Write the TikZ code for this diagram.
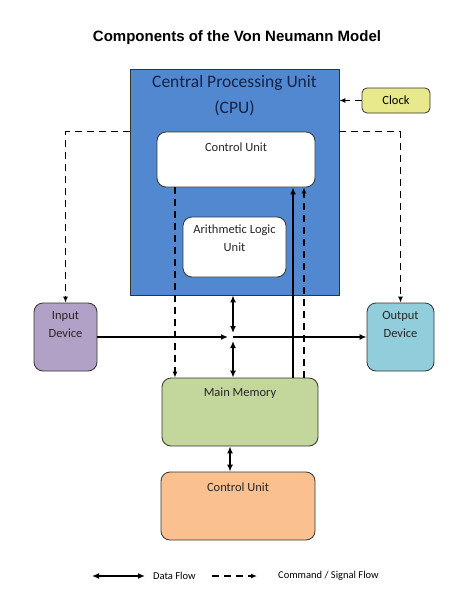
\documentclass[tikz,border=0pt]{standalone}
\usepackage{fontspec}
\setmainfont{Carlito}
\newfontfamily\headfont{Liberation Sans}
\usetikzlibrary{arrows.meta}
\usetikzlibrary{positioning}
\definecolor{cpublue}{RGB}{82,136,208}
\definecolor{clockyellow}{RGB}{232,232,140}
\definecolor{inpurple}{RGB}{178,161,199}
\definecolor{outblue}{RGB}{146,205,220}
\definecolor{memgreen}{RGB}{195,214,155}
\definecolor{ctlorange}{RGB}{250,192,144}
\definecolor{navytext}{RGB}{20,35,70}
\tikzset{unit/.style = {draw=black!80, line width=0.8, rounded corners=9, inner sep=0}}
\tikzset{tag/.style = {anchor=north, yshift=-10, inner sep=0, align=center, text=black!85,
                       font=\fontsize{12.5}{18}\selectfont}}
\tikzset{key/.style = {anchor=west, inner sep=0, font=\fontsize{10.5}{12}\selectfont}}
\tikzset{data/.style = {line width=2.2}}
\tikzset{signal/.style = {line width=1.5, dash pattern=on 7pt off 5pt, -{Latex[length=6,width=5]}}}

\begin{document}
\begin{tikzpicture}[x=1pt, y=-1pt, >={Latex[length=7,width=6]}]
    \useasboundingbox (0,0) rectangle (474,594);
    \node [font=\headfont\bfseries\fontsize{15}{18}\selectfont] (title) at (237,38) {Components of the Von Neumann Model};

    % boxes
    \node [unit, fill=cpublue, rounded corners=0, minimum width=209, minimum height=226,
           label={[tag, yshift=3, text=navytext, font=\fontsize{17.5}{26}\selectfont]north:Central Processing Unit\\(CPU)}] (cpu) at (234.5,182) {};
    \node [unit, fill=clockyellow, rounded corners=5, minimum width=68, minimum height=25,
           font=\fontsize{12.5}{14}\selectfont] (clock) at (396,100.5) {Clock};
    \node [unit, fill=white, minimum width=158, minimum height=55,
           label={[tag, yshift=-1]north:Control Unit}] (cu) at (236,159.5) {};
    \node [unit, fill=white, minimum width=103, minimum height=60,
           label={[tag, yshift=2]north:Arithmetic Logic\\Unit}] (alu) at (234.5,247) {};
    \node [unit, fill=inpurple, minimum width=63, minimum height=68,
           label={[tag, yshift=1]north:Input\\Device}] (in) at (65.5,337) {};
    \node [unit, fill=outblue, minimum width=67, minimum height=68,
           label={[tag, yshift=1]north:Output\\Device}] (out) at (400.5,337) {};
    \node [unit, fill=memgreen, minimum width=156, minimum height=68,
           label={[tag]north:Main Memory}] (mm) at (240,412) {};
    \node [unit, fill=ctlorange, minimum width=154, minimum height=68,
           label={[tag, yshift=-1]north:Control Unit}] (ctl) at (238,506) {};

    % signals
    \draw [signal] (clock.west) -- (cpu.east |- clock.west);
    \draw [signal] (cpu.west |- cu.north) -| (in.north);
    \draw [signal] (cpu.east |- cu.north) -| (out.north);
    \draw [signal] (cu.south -| 175,0) -- (mm.north -| 175,0);
    \draw [signal] (mm.north -| 304,0) -- (cu.south -| 304,0);

    % data
    \coordinate (bus) at (233,337);
    \draw [data, ->, shorten >=5] (in.east) -- (bus);
    \draw [data, ->] (bus) -- (out.west);
    \draw [data, <->, shorten >=4] (cpu.south -| bus) -- (bus);
    \draw [data, <->, shorten <=4] (bus) -- (mm.north -| bus);
    \draw [data, ->] (mm.north -| 293,0) -- (cu.south -| 293,0);
    \draw [data, <->] (mm.south -| 230,0) -- (ctl.north -| 230,0);

    % legend
    \coordinate (dl) at (92,576);
    \node [key] (dkey) at (153,576) {Data Flow};
    \draw [data, <->, shorten >=8] (dl) -- (dkey.west);
    \coordinate (sl) at (212,576);
    \node [key] (skey) at (278,576) {Command / Signal Flow};
    \draw [signal, shorten >=21] (sl) -- (skey.west);
\end{tikzpicture}
\end{document}
